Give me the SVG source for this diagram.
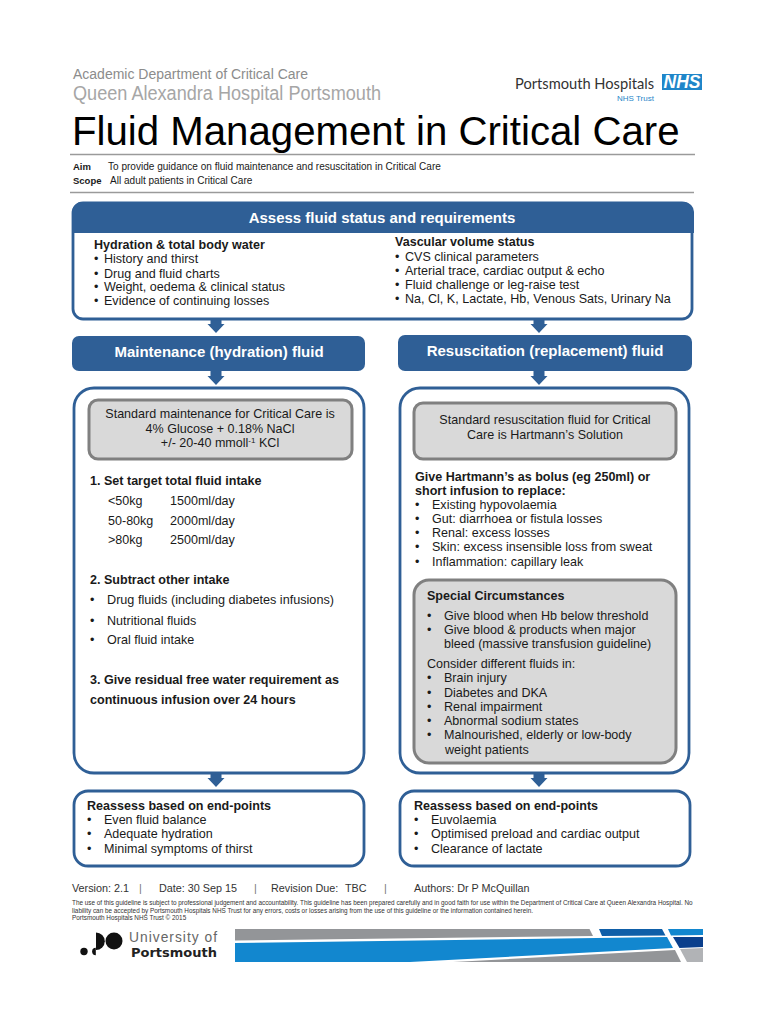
<svg xmlns="http://www.w3.org/2000/svg" width="768" height="1024" viewBox="0 0 768 1024">
<style>
text{font-family:"Liberation Sans",Arial,sans-serif;fill:#1a1a1a;font-size:12.55px}
.b{font-weight:bold}
.w{font-weight:bold;fill:#fff;font-size:15px;text-anchor:middle}
.c{text-anchor:middle}
.box{fill:#fff;stroke:#2f5f96;stroke-width:2.8}
.hdr{fill:#2f5f96}
.grey{fill:#d9d9d9;stroke:#808080;stroke-width:3}
.rule{stroke:#9a9a9a;stroke-width:1.3}
.arrow{fill:#2f5f96}
.meta{font-size:10.8px;fill:#333}
.bar{font-size:10.8px;fill:#777}
.legal{font-size:6.38px;fill:#333}
</style>
<defs><path id="arr" d="M-5.500 0H5.500V5H8.500L0 14L-8.500 5H-5.500Z"/></defs>
<rect width="768" height="1024" fill="#fff"/>
<g id="header">
<text x="73" y="79" style="font-size:14px;fill:#8c8c8c">Academic Department of Critical Care</text>
<text x="73" y="100" textLength="308" lengthAdjust="spacingAndGlyphs" style="font-size:19.500px;fill:#a6a6a6">Queen Alexandra Hospital Portsmouth</text>
<text x="72" y="145" style="font-size:40.2px;fill:#000">Fluid Management in Critical Care</text>
<line class="rule" x1="70" y1="154.500" x2="695" y2="154.500"/>
<text x="73" y="170" class="b" style="font-size:9.5px">Aim</text>
<text x="108" y="170" style="font-size:10.050px">To provide guidance on fluid maintenance and resuscitation in Critical Care</text>
<text x="73" y="184" class="b" style="font-size:9.5px">Scope</text>
<text x="110" y="184" style="font-size:10.050px">All adult patients in Critical Care</text>
<line class="rule" x1="70" y1="192.500" x2="694" y2="192.500"/>
<text x="515" y="89" textLength="139" lengthAdjust="spacingAndGlyphs" style="font-family:Lato,'Liberation Sans',sans-serif;font-size:15px;fill:#333">Portsmouth Hospitals</text>
<rect x="662" y="74" width="40" height="16" fill="#1f86c9"/>
<text x="682" y="87.500" class="c b" style="font-size:17.500px;font-style:italic;fill:#fff">NHS</text>
<text x="617" y="101" style="font-size:8px;fill:#1f86c9">NHS Trust</text>
</g>
<g id="connectors" class="arrow">
<use href="#arr" x="216" y="319"/>
<use href="#arr" x="539" y="319"/>
<use href="#arr" x="216" y="371"/>
<use href="#arr" x="539" y="371"/>
<use href="#arr" x="216" y="773"/>
<use href="#arr" x="539" y="773"/>
</g>
<g id="assess">
<rect class="box" x="73" y="203" width="619" height="116" rx="10"/>
<path class="hdr" d="M72 233V212a10 10 0 0 1 10-10H684a10 10 0 0 1 10 10V233Z"/>
<text x="382" y="223" class="w">Assess fluid status and requirements</text>
<text x="94" y="249" class="b">Hydration &amp; total body water</text>
<text x="94" y="263">•</text><text x="104" y="263">History and thirst</text>
<text x="94" y="278">•</text><text x="104" y="278">Drug and fluid charts</text>
<text x="94" y="291">•</text><text x="104" y="291">Weight, oedema &amp; clinical status</text>
<text x="94" y="305">•</text><text x="104" y="305">Evidence of continuing losses</text>
<text x="395" y="246" class="b">Vascular volume status</text>
<text x="395" y="261">•</text><text x="405" y="261">CVS clinical parameters</text>
<text x="395" y="275">•</text><text x="405" y="275">Arterial trace, cardiac output &amp; echo</text>
<text x="395" y="289">•</text><text x="405" y="289">Fluid challenge or leg-raise test</text>
<text x="395" y="303">•</text><text x="405" y="303">Na, Cl, K, Lactate, Hb, Venous Sats, Urinary Na</text>
</g>
<g id="maintenance-header">
<rect class="hdr" x="72" y="336" width="293" height="35" rx="7"/>
<text x="219" y="357" class="w">Maintenance (hydration) fluid</text>
</g>
<g id="resuscitation-header">
<rect class="hdr" x="398" y="335" width="294" height="36" rx="7"/>
<text x="545" y="356" class="w">Resuscitation (replacement) fluid</text>
</g>
<g id="maintenance">
<rect class="box" x="74" y="388" width="290" height="385" rx="20"/>
<rect class="grey" x="89" y="400" width="263" height="59" rx="9"/>
<text x="220" y="418" class="c">Standard maintenance for Critical Care is</text>
<text x="220" y="433" class="c">4% Glucose + 0.18% NaCl</text>
<text x="220" y="447" class="c">+/- 20-40 mmoll<tspan dy="-4" style="font-size:8px">-1</tspan><tspan dy="4"> KCl</tspan></text>
<text x="90" y="485" class="b">1. Set target total fluid intake</text>
<text x="108" y="505">&lt;50kg</text><text x="170" y="505">1500ml/day</text>
<text x="108" y="525">50-80kg</text><text x="170" y="525">2000ml/day</text>
<text x="108" y="544">&gt;80kg</text><text x="170" y="544">2500ml/day</text>
<text x="90" y="584" class="b">2. Subtract other intake</text>
<text x="90" y="604">•</text><text x="107" y="604" style="font-size:12.65px">Drug fluids (including diabetes infusions)</text>
<text x="90" y="625">•</text><text x="107" y="625">Nutritional fluids</text>
<text x="90" y="644">•</text><text x="107" y="644">Oral fluid intake</text>
<text x="90" y="684" class="b">3. Give residual free water requirement as</text>
<text x="90" y="704" class="b">continuous infusion over 24 hours</text>
</g>
<g id="resuscitation">
<rect class="box" x="400" y="388" width="289" height="385" rx="20"/>
<rect class="grey" x="414" y="403" width="262" height="56" rx="9"/>
<text x="545" y="424" class="c">Standard resuscitation fluid for Critical</text>
<text x="545" y="439" class="c">Care is Hartmann’s Solution</text>
<text x="415" y="481" class="b">Give Hartmann’s as bolus (eg 250ml) or</text>
<text x="415" y="495" class="b">short infusion to replace:</text>
<text x="415" y="509">•</text><text x="432" y="509">Existing hypovolaemia</text>
<text x="415" y="523">•</text><text x="432" y="523">Gut: diarrhoea or fistula losses</text>
<text x="415" y="537">•</text><text x="432" y="537">Renal: excess losses</text>
<text x="415" y="551">•</text><text x="432" y="551">Skin: excess insensible loss from sweat</text>
<text x="415" y="565.500">•</text><text x="432" y="565.500">Inflammation: capillary leak</text>
<rect class="grey" x="414" y="580" width="262" height="183" rx="15"/>
<text x="427" y="600" class="b">Special Circumstances</text>
<text x="427" y="620">•</text><text x="444" y="620">Give blood when Hb below threshold</text>
<text x="427" y="634">•</text><text x="444" y="634">Give blood &amp; products when major</text>
<text x="444" y="648">bleed (massive transfusion guideline)</text>
<text x="427" y="668">Consider different fluids in:</text>
<text x="427" y="682">•</text><text x="444" y="682">Brain injury</text>
<text x="427" y="697">•</text><text x="444" y="697">Diabetes and DKA</text>
<text x="427" y="711">•</text><text x="444" y="711">Renal impairment</text>
<text x="427" y="725">•</text><text x="444" y="725">Abnormal sodium states</text>
<text x="427" y="739">•</text><text x="444" y="739">Malnourished, elderly or low-body</text>
<text x="445" y="754">weight patients</text>
</g>
<g id="reassess-left">
<rect class="box" x="74" y="791" width="290" height="75" rx="14"/>
<text x="87" y="810" class="b">Reassess based on end-points</text>
<text x="87" y="824">•</text><text x="104" y="824">Even fluid balance</text>
<text x="87" y="838">•</text><text x="104" y="838">Adequate hydration</text>
<text x="87" y="853">•</text><text x="104" y="853">Minimal symptoms of thirst</text>
</g>
<g id="reassess-right">
<rect class="box" x="400" y="791" width="290" height="75" rx="14"/>
<text x="414" y="810" class="b">Reassess based on end-points</text>
<text x="414" y="824">•</text><text x="431" y="824">Euvolaemia</text>
<text x="414" y="838">•</text><text x="431" y="838">Optimised preload and cardiac output</text>
<text x="414" y="853">•</text><text x="431" y="853">Clearance of lactate</text>
</g>
<g id="footer">
<text x="72" y="892" class="meta">Version: 2.1</text>
<text x="139" y="892" class="bar">|</text>
<text x="159" y="892" class="meta">Date: 30 Sep 15</text>
<text x="254" y="892" class="bar">|</text>
<text x="271" y="892" class="meta">Revision Due:</text>
<text x="345" y="892" class="meta">TBC</text>
<text x="384" y="892" class="bar">|</text>
<text x="414" y="892" class="meta">Authors: Dr P McQuillan</text>
<text x="72" y="905" class="legal">The use of this guideline is subject to professional judgement and accountability.  This guideline has been prepared carefully and in good faith for use within the Department of Critical Care at Queen Alexandra Hospital.  No</text>
<text x="72" y="913" class="legal">liability can be accepted by Portsmouth Hospitals NHS Trust for any errors, costs or losses arising from the use of this guideline or the information contained herein.</text>
<text x="72" y="920" class="legal">Portsmouth Hospitals NHS Trust  © 2015</text>
</g>
<g id="university-logo">
<circle cx="84" cy="951.500" r="3.700" fill="#111"/>
<path d="M95.800 947.800a3.700 3.700 0 0 0 0 7.400Z" fill="#111"/>
<path d="M96 932.500a8.800 8.800 0 0 1 0 17.600Z" fill="#111"/>
<circle cx="114" cy="941" r="8.500" fill="#111"/>
<text x="129" y="941.500" textLength="88" lengthAdjust="spacing" style="font-size:13.800px;fill:#666">University of</text>
<text x="131" y="956.500" class="b" style="font-family:'DejaVu Sans',sans-serif;font-size:13px;fill:#222">Portsmouth</text>
</g>
<g id="banner">
<path d="M235 929H589.500L593 936L235 940.500Z" fill="#939598"/>
<path d="M599 929H662L665.500 935.500L602 936Z" fill="#0f5fa8"/>
<path d="M668 929H703V935L671 935.500Z" fill="#1287cf"/>
<path d="M235 943L667 937L673 948L410 962H235Z" fill="#1287cf"/>
<path d="M673 937H703V947L679.500 948Z" fill="#0a3f8c"/>
<path d="M453 962L675 950L681 962Z" fill="#939598"/>
<path d="M680 949L703 948V962H687Z" fill="#b1b3b6"/>
</g>
</svg>
